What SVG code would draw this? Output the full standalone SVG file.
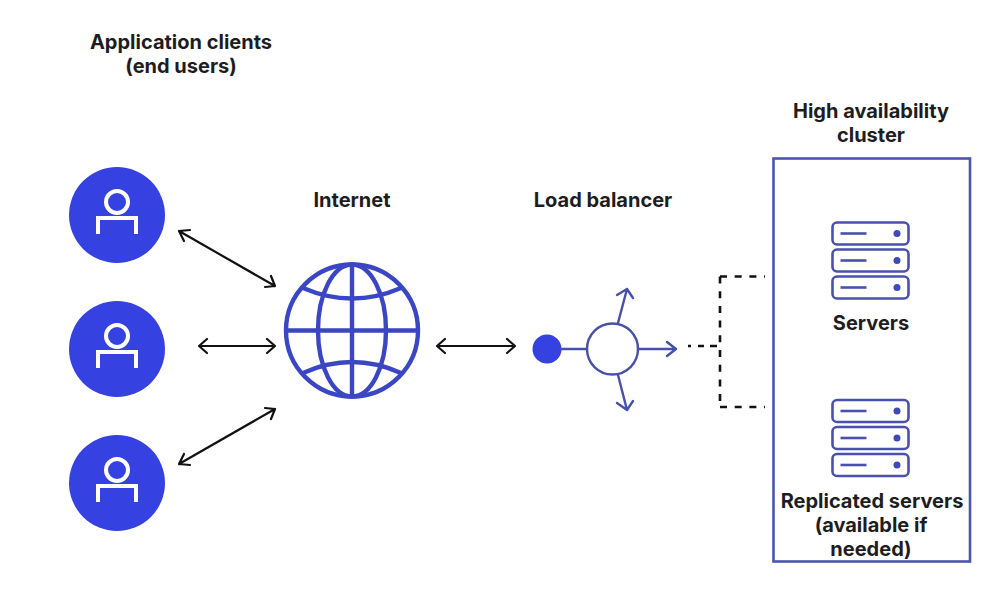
<svg xmlns="http://www.w3.org/2000/svg" width="1000" height="600" viewBox="0 0 1000 600">
<style>
text{font-family:Inter,"Liberation Sans",sans-serif;font-weight:700;font-size:20px;fill:#1d1d1f;text-anchor:middle}
.glob{fill:none;stroke:#3a46c4;stroke-width:4.4}
.srv{fill:none;stroke:#4a50ae;stroke-width:2.6}
.u{fill:none;stroke:#fff;stroke-width:4}
.bk{fill:none;stroke:#111;stroke-width:2.2;stroke-linecap:round;stroke-linejoin:round}
.dash{fill:none;stroke:#111;stroke-width:2.6;stroke-dasharray:7 7.7}
.dots{fill:none;stroke:#111;stroke-width:2.6}
.ar{fill:none;stroke:#4750ad;stroke-width:2.4;stroke-linecap:round;stroke-linejoin:round}
</style>
<defs>
<g id="user"><circle r="48" fill="#3541e0"/><circle cx="0" cy="-13" r="11" class="u"/><path class="u" d="M-19 19V3H19V19"/></g>
<g id="server">
<rect x="-38" y="-38" width="76" height="22" rx="4.5" class="srv"/><path class="srv" d="M-30 -27H-4"/><circle cx="26.500" cy="-27" r="3.500" fill="#3f49b8"/>
<rect x="-38" y="-11" width="76" height="22" rx="4.5" class="srv"/><path class="srv" d="M-30 0H-4"/><circle cx="26.500" cy="0" r="3.500" fill="#3f49b8"/>
<rect x="-38" y="16" width="76" height="22" rx="4.5" class="srv"/><path class="srv" d="M-30 27H-4"/><circle cx="26.500" cy="27" r="3.500" fill="#3f49b8"/>
</g>
</defs>
<rect width="1000" height="600" fill="#fff"/>
<g id="labels-clients"><text x="181" y="48.500">Application clients</text><text x="181" y="72.500">(end users)</text></g>
<g id="client-1"><use href="#user" x="117" y="215"/></g>
<g id="client-2"><use href="#user" x="117" y="349"/></g>
<g id="client-3"><use href="#user" x="117" y="483"/></g>
<g id="internet"><text x="352" y="207">Internet</text>
<g class="glob"><circle cx="352" cy="330.500" r="66"/><path d="M286 330.500H418M352 265V397"/><ellipse cx="352" cy="330.500" rx="34" ry="66"/><path d="M303 288Q352 309 401 288M303 373Q352 351 401 373"/></g></g>
<g id="load-balancer"><text x="603" y="207">Load balancer</text>
<circle cx="547" cy="349" r="14.500" fill="#3541e0"/><circle cx="612.500" cy="349" r="25.500" fill="#fff" stroke="#4750ad" stroke-width="2.4"/></g>
<g id="cluster"><text x="871" y="117.500">High availability</text><text x="871" y="141.500">cluster</text>
<rect x="773.500" y="158.500" width="196.500" height="403" fill="none" stroke="#4a55b0" stroke-width="2.600"/></g>
<g id="servers"><use href="#server" x="870.500" y="260.500"/><text x="871" y="329.500">Servers</text></g>
<g id="replicated-servers"><use href="#server" x="870.500" y="438"/><text x="872" y="507.500">Replicated servers</text><text x="871" y="531.500">(available if</text><text x="871" y="555.500">needed)</text></g>
<g id="connectors">
<path class="bk" d="M179 231L275 286M190 230L179 231L184 241M265 287L275 286L271 276"/>
<path class="bk" d="M199 346H275M207 339L199 346L207 353M267 339L275 346L267 353"/>
<path class="bk" d="M179 464L275 409M184 454L179 464L190 465M271 419L275 409L265 408"/>
<path class="bk" d="M437 346H515M445 339L437 346L445 353M507 339L515 346L507 353"/>
<path class="ar" d="M561 349H587M618 323L627 289M617 295L627 289L633 298M638 349H676M667 342L676 349L667 356M618 375L627 410M617 403L627 410L633 401"/>
<path class="dots" d="M688 346H691M698 346H704M710 346H717"/>
<path class="dash" d="M720 276.500V407M720 276.500H765M720 407H765"/>
</g>
</svg>
